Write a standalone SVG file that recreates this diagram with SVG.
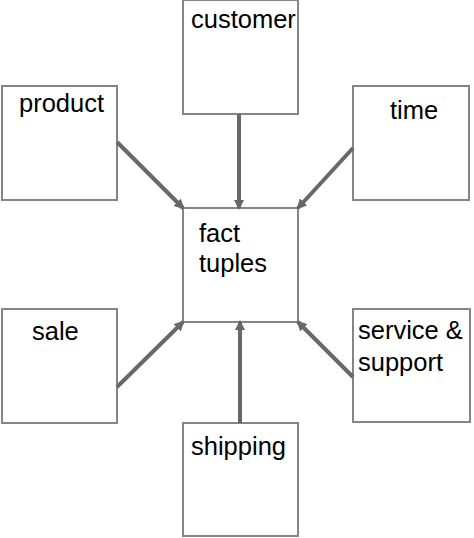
<svg xmlns="http://www.w3.org/2000/svg" width="474" height="538" viewBox="0 0 474 538">
<style>
.box{fill:#fff;stroke:#858585;stroke-width:2}
.lbl{font-family:"Liberation Sans",Arial,sans-serif;font-size:25.5px;fill:#000}
.conn{stroke:#686868;stroke-width:4;fill:none;marker-end:url(#ah)}
</style>
<defs>
<marker id="ah" viewBox="0 0 10 10" refX="8" refY="5" markerWidth="2.6" markerHeight="2.6" orient="auto" markerUnits="strokeWidth">
<path d="M0,0 L10,5 L0,10 z" fill="#686868"/>
</marker>
</defs>
<rect width="474" height="538" fill="#fff"/>
<g id="fact"><rect class="box" x="183" y="208" width="115" height="114"/><text class="lbl" x="199" y="242">fact</text><text class="lbl" x="199" y="272">tuples</text></g>
<g id="customer"><rect class="box" x="183" y="0" width="115" height="114"/><text class="lbl" x="191" y="28">customer</text></g>
<g id="product"><rect class="box" x="2" y="86" width="115" height="114"/><text class="lbl" x="19" y="112">product</text></g>
<g id="time"><rect class="box" x="353" y="86" width="116" height="114"/><text class="lbl" x="390" y="119">time</text></g>
<g id="sale"><rect class="box" x="2" y="309" width="115" height="114"/><text class="lbl" x="32" y="340">sale</text></g>
<g id="service"><rect class="box" x="353" y="309" width="117" height="113"/><text class="lbl" x="358" y="339">service &amp;</text><text class="lbl" x="358" y="371">support</text></g>
<g id="shipping"><rect class="box" x="183" y="423" width="115" height="113"/><text class="lbl" x="191" y="455">shipping</text></g>
<g id="connectors">
<line class="conn" x1="117" y1="142" x2="183" y2="208"/>
<line class="conn" x1="239" y1="114" x2="239" y2="208"/>
<line class="conn" x1="353" y1="148" x2="298" y2="208"/>
<line class="conn" x1="117" y1="387" x2="183" y2="322"/>
<line class="conn" x1="240" y1="423" x2="240" y2="322"/>
<line class="conn" x1="353" y1="377" x2="298" y2="322"/>
</g>
</svg>
